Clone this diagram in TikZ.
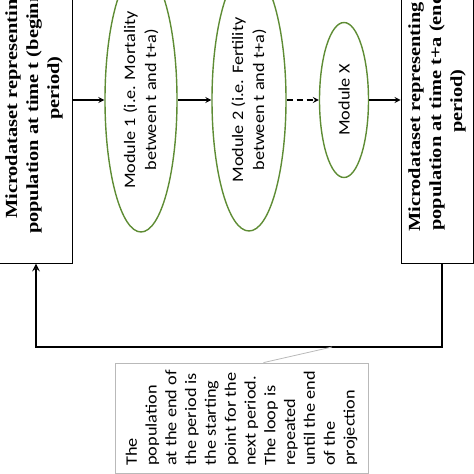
\documentclass[tikz,border=0pt]{standalone}
\usepackage{fontspec}
\setmainfont{Liberation Serif}
\newfontfamily\boxfont[FakeStretch=1.2]{Liberation Serif}
\newfontfamily\calibri[FakeStretch=1.14]{Carlito}
\usetikzlibrary{shapes.geometric,calc}
\definecolor{modgreen}{RGB}{94,140,52}
\begin{document}
\begin{tikzpicture}[x=1pt,y=-1pt,>=stealth,
  databox/.style={draw,line width=1pt,rotate=90,inner sep=0pt,align=center,font=\boxfont\bfseries\fontsize{17}{21}\selectfont},
  module/.style={draw=modgreen,line width=1.4pt,ellipse,rotate=90,inner sep=0pt,align=center,font=\calibri\fontsize{16}{21}\selectfont},
  flow/.style={->,line width=1.6pt},
  loopline/.style={->,line width=2.4pt}]
\useasboundingbox (0,0) rectangle (474,474);
\clip (0,0) rectangle (474,474);
% rotated nodes: north is on the left of the page, south on the right, west at the bottom
\node[databox,minimum width=350,minimum height=76] (start) at (34,88) {Microdataset representing the\\population at time t (beginning of\\period)};
\node[module,minimum width=264,minimum height=72] (m1) at (141,100) {Module 1 (i.e. Mortality\\between t and t+a)};
\node[module,minimum width=262,minimum height=74] (m2) at (249,100) {Module 2 (i.e. Fertility\\between t and t+a)};
\node[module,minimum width=155,minimum height=49] (mx) at (344,100) {Module X};
\node[databox,minimum width=324,minimum height=72] (end) at (437,101) {Microdataset representing the\\population at time t+a (end of\\period)};
\draw[flow] (start.south |- m1.center) -- (m1.north);
\draw[flow] (m1.south) -- (m2.north);
\draw[flow,dash pattern=on 6pt off 4pt] (m2.south) -- (mx.north);
\draw[flow] (mx.south) -- (end.north |- mx.center);
% loop back from the end of the period to the start
\coordinate (loopR) at (442,347);
\coordinate (loopL) at (36,347);
\draw[loopline] (end.west -| loopR) -- (loopR) -- (loopL) -- (start.west -| loopL);
% callout
\node[rotate=90,draw=gray!55,line width=0.8pt,minimum width=110,minimum height=253,inner sep=0pt,align=left,font=\calibri\fontsize{16}{19.8}\selectfont] (note) at (241.5,418) {The\\population\\at the end of\\the period is\\the starting\\point for the\\next period.\\The loop is\\repeated\\until the end\\of the\\projection};
\coordinate (tip) at (332,347);
\draw[gray!55,line width=0.8pt] ($(note.east)+(22,0)$) -- (tip);
\end{tikzpicture}
\end{document}
